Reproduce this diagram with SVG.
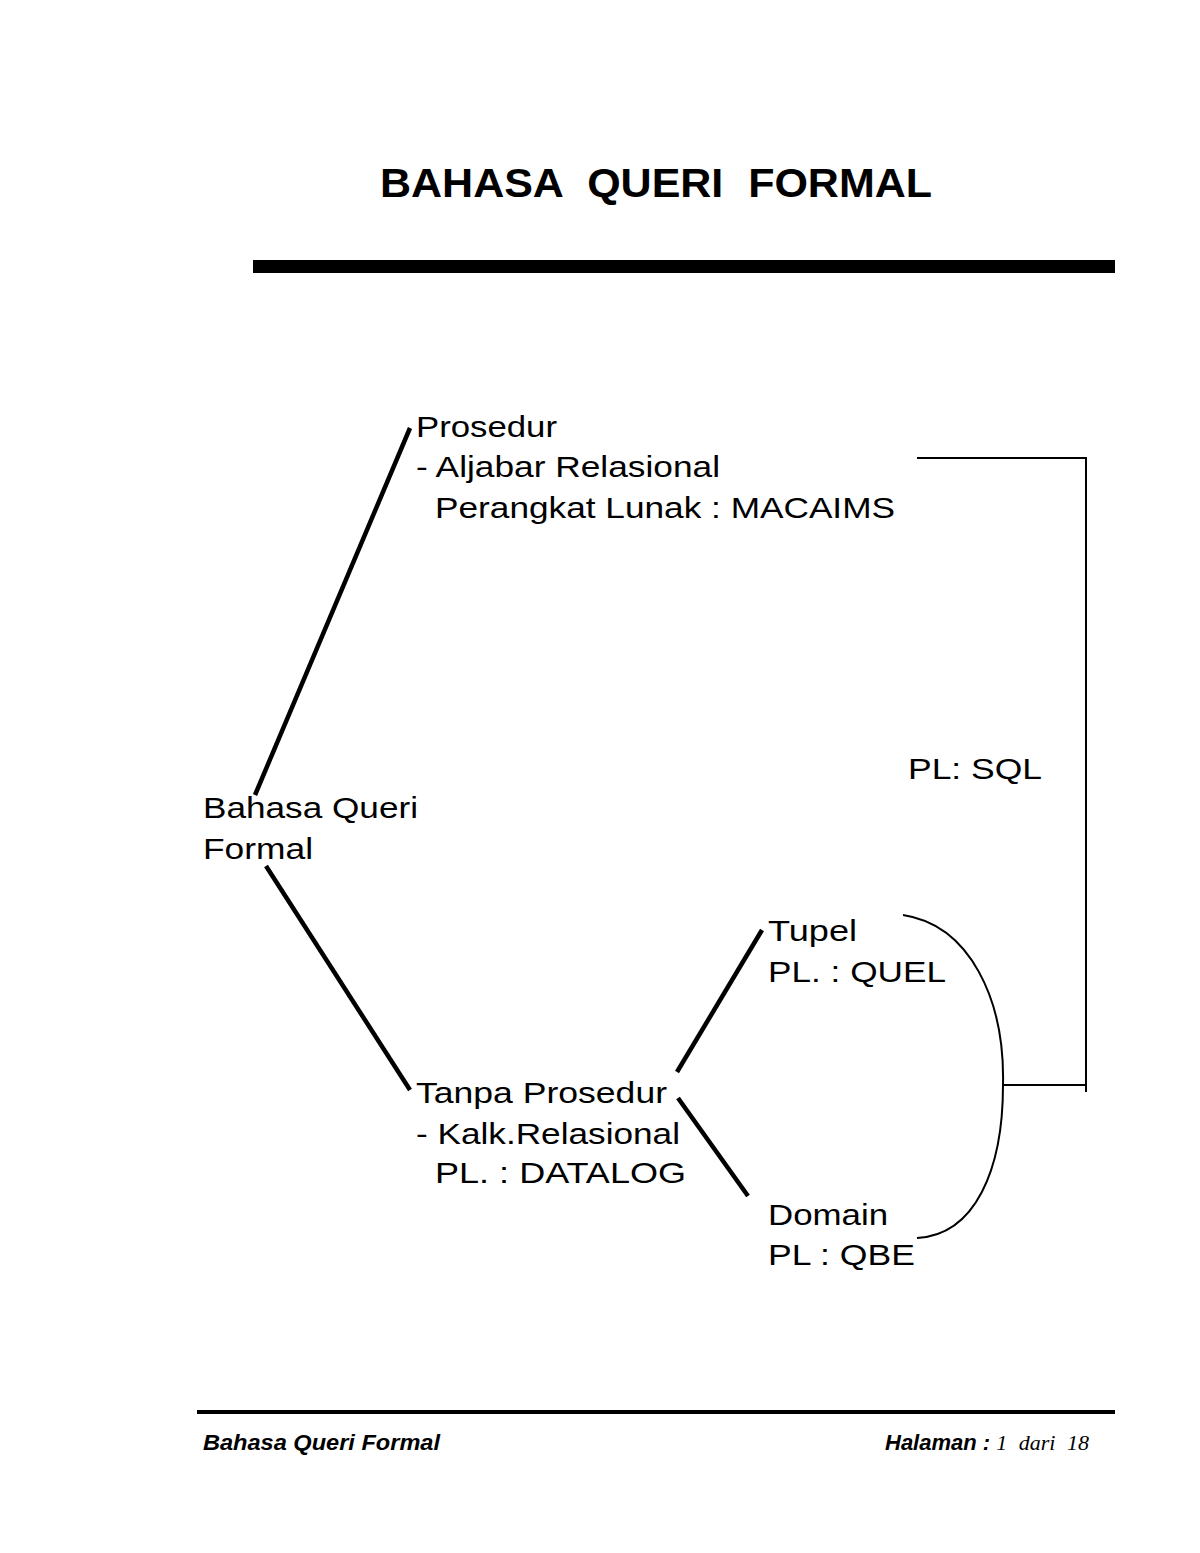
<svg xmlns="http://www.w3.org/2000/svg" width="1200" height="1553" viewBox="0 0 1200 1553">
<style>
text{font-family:"Liberation Sans",Arial,sans-serif;fill:#000}
.t{font-size:30px}
.thick{stroke:#000;stroke-width:4.5;fill:none}
.thin{stroke:#000;stroke-width:2;fill:none}
</style>
<rect width="1200" height="1553" fill="#fff"/>
<text x="380" y="197" font-size="40" font-weight="bold" word-spacing="12" textLength="552" lengthAdjust="spacingAndGlyphs">BAHASA QUERI FORMAL</text>
<rect x="253" y="260" width="862" height="13" fill="#000"/>
<g id="connectors">
<line class="thick" x1="255" y1="795" x2="410" y2="428"/>
<line class="thick" x1="266" y1="866" x2="410" y2="1090"/>
<line class="thick" x1="677" y1="1072" x2="762" y2="930"/>
<line class="thick" x1="678" y1="1098" x2="748" y2="1196"/>
<path class="thin" d="M917,458 H1086 V1092"/>
<path class="thin" d="M1003,1085 H1086"/>
<path class="thin" d="M903,915 C970,925 1005,1000 1003,1085 C1003,1170 975,1235 917,1238"/>
</g>
<g id="root"><text class="t" x="203" y="818" textLength="215" lengthAdjust="spacingAndGlyphs">Bahasa Queri</text><text class="t" x="203" y="859" textLength="110" lengthAdjust="spacingAndGlyphs">Formal</text></g>
<g id="prosedur"><text class="t" x="416" y="437" textLength="141" lengthAdjust="spacingAndGlyphs">Prosedur</text><text class="t" x="416" y="477" textLength="304" lengthAdjust="spacingAndGlyphs">- Aljabar Relasional</text><text class="t" x="435" y="518" textLength="460" lengthAdjust="spacingAndGlyphs">Perangkat Lunak : MACAIMS</text></g>
<g id="sql"><text class="t" x="908" y="779" textLength="134" lengthAdjust="spacingAndGlyphs">PL: SQL</text></g>
<g id="tanpa"><text class="t" x="416" y="1103" textLength="251" lengthAdjust="spacingAndGlyphs">Tanpa Prosedur</text><text class="t" x="416" y="1144" textLength="264" lengthAdjust="spacingAndGlyphs">- Kalk.Relasional</text><text class="t" x="435" y="1183" textLength="251" lengthAdjust="spacingAndGlyphs">PL. : DATALOG</text></g>
<g id="tupel"><text class="t" x="768" y="941" textLength="89" lengthAdjust="spacingAndGlyphs">Tupel</text><text class="t" x="768" y="982" textLength="178" lengthAdjust="spacingAndGlyphs">PL. : QUEL</text></g>
<g id="domain"><text class="t" x="768" y="1225" textLength="120" lengthAdjust="spacingAndGlyphs">Domain</text><text class="t" x="768" y="1265" textLength="147" lengthAdjust="spacingAndGlyphs">PL : QBE</text></g>
<rect x="197" y="1410" width="918" height="4" fill="#000"/>
<text x="203" y="1450" font-size="22" font-weight="bold" font-style="italic" textLength="237" lengthAdjust="spacingAndGlyphs">Bahasa Queri Formal</text>
<text x="885" y="1450" font-size="22" font-weight="bold" font-style="italic">Halaman : <tspan font-family="Liberation Serif" font-weight="normal" word-spacing="6">1 dari 18</tspan></text>
</svg>
